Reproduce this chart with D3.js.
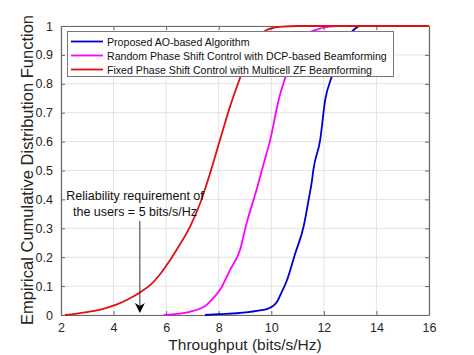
<!DOCTYPE html>
<html><head><meta charset="utf-8">
<script src="https://cdn.jsdelivr.net/npm/d3@7"></script>
<style>body{margin:0;background:#fff;} svg{display:block;font-family:"Liberation Sans",Arial,sans-serif;}</style>
</head><body>
<svg id="c" width="474" height="355"></svg>
<script>
const xTicks = [2,4,6,8,10,12,14,16];
const yTicks = [0,0.1,0.2,0.3,0.4,0.5,0.6,0.7,0.8,0.9,1];
const yTickLabels = ["0","0.1","0.2","0.3","0.4","0.5","0.6","0.7","0.8","0.9","1"];
const seriesNames = ["Proposed AO-based Algorithm","Random Phase Shift Control with DCP-based Beamforming","Fixed Phase Shift Control with Multicell ZF Beamforming"];
const seriesColors = ["#0000d0","#ff00ff","#e01010"];
const blueX = [7.48,8.0,8.69,9.45,9.9,10.05,10.22,10.4,10.6,10.91,11.23,11.42,11.55,11.6,11.86,12.05,12.3,12.55,12.8,13.13,13.37,16];
const blueY = [0,0.003,0.006,0.014,0.023,0.03,0.046,0.08,0.121,0.213,0.306,0.398,0.467,0.502,0.606,0.744,0.825,0.9,0.95,0.986,1,1];
const magX = [5.91,6.5,6.9,7.54,7.73,8.05,8.43,8.81,9.06,9.44,9.7,9.96,10.28,10.6,10.9,11.3,11.67,12.2,12.5,16];
const magY = [0,0.005,0.011,0.035,0.052,0.087,0.156,0.225,0.317,0.433,0.52,0.606,0.744,0.84,0.92,0.97,0.986,0.998,1,1];
const redX = [2.15,2.6,3.04,3.5,4.05,4.5,5.0,5.4,5.77,6.1,6.4,6.91,7.29,7.67,8.05,8.43,8.81,9.1,9.4,9.65,9.82,10.1,10.45,11,16];
const redY = [0,0.005,0.011,0.019,0.034,0.052,0.078,0.104,0.141,0.183,0.226,0.306,0.386,0.49,0.606,0.721,0.82,0.89,0.945,0.975,0.986,0.994,0.998,1,1];
const annotation = ["Reliability requirement of","the users = 5 bits/s/Hz"];
const arrowX = 5;

const svg = d3.select("#c");
const L=61,R=429,T=26,B=315;
const x = d3.scaleLinear().domain([2,16]).range([L,R]);
const y = d3.scaleLinear().domain([0,1]).range([B,T]);
const axisCol="#6a6a6a", txtCol="#262626";

// grid
const g = svg.append("g");
g.selectAll(".gx").data(xTicks).join("line").attr("x1",d=>x(d)).attr("x2",d=>x(d)).attr("y1",T).attr("y2",B).attr("stroke","#e3e3e3").attr("stroke-width",1);
g.selectAll(".gy").data(yTicks).join("line").attr("y1",d=>y(d)).attr("y2",d=>y(d)).attr("x1",L).attr("x2",R).attr("stroke","#e3e3e3").attr("stroke-width",1);

// axes (inward ticks)
const ax = svg.append("g").attr("transform",`translate(0,${B})`).call(d3.axisBottom(x).tickValues(xTicks).tickSizeInner(-4).tickSizeOuter(0).tickPadding(8));
const axT = svg.append("g").attr("transform",`translate(0,${T})`).call(d3.axisTop(x).tickValues(xTicks).tickSizeInner(-4).tickSizeOuter(0).tickFormat(""));
const ay = svg.append("g").attr("transform",`translate(${L},0)`).call(d3.axisLeft(y).tickValues(yTicks).tickSizeInner(-4).tickSizeOuter(0).tickPadding(8).tickFormat((d,i)=>yTickLabels[i]));
const ayR = svg.append("g").attr("transform",`translate(${R},0)`).call(d3.axisRight(y).tickValues(yTicks).tickSizeInner(-4).tickSizeOuter(0).tickFormat(""));
[ax,axT,ay,ayR].forEach(a=>{
  a.selectAll("path").attr("stroke",axisCol).attr("stroke-width",1.2);
  a.selectAll("line").attr("stroke",axisCol);
  a.selectAll("text").attr("fill",txtCol).attr("font-size","12.5px").attr("font-family","Liberation Sans, Arial, sans-serif");
});

// lines
const line = d3.line().x(d=>x(d[0])).y(d=>y(d[1])).curve(d3.curveMonotoneX);
const data = [d3.zip(blueX,blueY), d3.zip(magX,magY), d3.zip(redX,redY)];
data.forEach((d,i)=>{
  svg.append("path").datum(d).attr("d",line).attr("fill","none").attr("stroke",seriesColors[i]).attr("stroke-width",1.8).attr("stroke-linejoin","round");
});

// annotation
const at = svg.append("text").attr("text-anchor","middle").attr("fill","#111").attr("font-size","12.5px");
annotation.forEach((t,i)=>at.append("tspan").attr("x",135).attr("y",200+i*16).text(t));
svg.append("defs").append("marker").attr("id","ah").attr("viewBox","0 0 10 10").attr("refX",9).attr("refY",5)
  .attr("markerWidth",10).attr("markerHeight",10).attr("markerUnits","userSpaceOnUse").attr("orient","auto")
  .append("path").attr("d","M0,0 L10,5 L0,10 L3,5 Z").attr("fill","#000");
svg.append("line").attr("x1",x(arrowX)).attr("x2",x(arrowX)).attr("y1",221).attr("y2",y(0)-3)
  .attr("stroke","#333").attr("stroke-width",1).attr("marker-end","url(#ah)");

// legend
const lg = svg.append("g");
lg.append("rect").attr("x",67.5).attr("y",31.5).attr("width",326).attr("height",45).attr("fill","#fff").attr("stroke","#777").attr("stroke-width",1);
seriesNames.forEach((n,i)=>{
  const yy = 41.5+i*14;
  lg.append("line").attr("x1",71).attr("x2",103).attr("y1",yy).attr("y2",yy).attr("stroke",seriesColors[i]).attr("stroke-width",1.8);
  lg.append("text").attr("x",107).attr("y",yy+4).attr("font-size","10.6px").attr("fill","#111").text(n);
});

// axis titles
svg.append("text").attr("x",245).attr("y",350).attr("text-anchor","middle").attr("font-size","15.5px").attr("fill",txtCol).text("Throughput (bits/s/Hz)");
svg.append("text").attr("transform","translate(33,170) rotate(-90)").attr("text-anchor","middle").attr("font-size","16.5px").attr("fill",txtCol).text("Empirical Cumulative Distribution Function");
</script>
</body></html>
